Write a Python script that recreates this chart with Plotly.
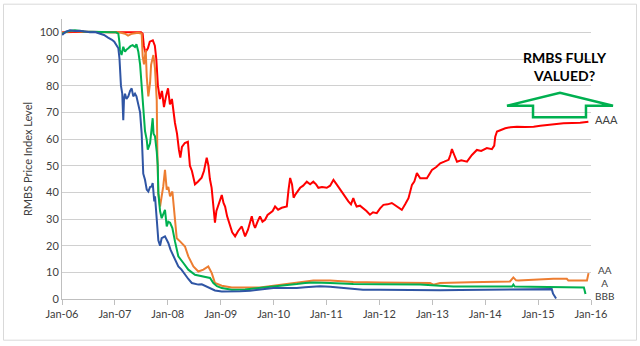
import plotly.graph_objects as go

# ---- series data: RMBS price index levels by rating tranche ----
aaa_dates = [
    "2006-01-02", "2006-06-01", "2007-01-02", "2007-07-01", "2007-07-12", "2007-07-20",
    "2007-07-30", "2007-08-17", "2007-08-30", "2007-09-20", "2007-10-04", "2007-10-14",
    "2007-10-25", "2007-11-08", "2007-11-22", "2007-12-06", "2007-12-20", "2008-01-03",
    "2008-01-16", "2008-01-30", "2008-02-20", "2008-03-05", "2008-03-18", "2008-03-28",
    "2008-04-08", "2008-04-28", "2008-05-19", "2008-06-02", "2008-06-16", "2008-07-07",
    "2008-07-27", "2008-08-22", "2008-09-07", "2008-09-26", "2008-10-08", "2008-10-18",
    "2008-10-30", "2008-11-08", "2008-11-22", "2008-12-02", "2008-12-13", "2008-12-27",
    "2009-01-08", "2009-01-20", "2009-01-31", "2009-02-14", "2009-03-07", "2009-03-21",
    "2009-04-10", "2009-05-01", "2009-05-26", "2009-06-08", "2009-06-18", "2009-07-08",
    "2009-08-03", "2009-08-16", "2009-08-26", "2009-09-12", "2009-09-29", "2009-10-16",
    "2009-11-03", "2009-11-20", "2009-12-07", "2009-12-25", "2010-01-11", "2010-02-01",
    "2010-02-26", "2010-03-14", "2010-04-02", "2010-04-14", "2010-04-25", "2010-05-08",
    "2010-05-19", "2010-05-29", "2010-06-16", "2010-07-03", "2010-07-24", "2010-08-18",
    "2010-09-10", "2010-10-02", "2010-10-21", "2010-11-06", "2010-12-01", "2011-01-03",
    "2011-01-26", "2011-02-18", "2011-03-12", "2011-04-05", "2011-05-02", "2011-06-01",
    "2011-06-19", "2011-07-05", "2011-07-17", "2011-07-28", "2011-08-20", "2011-09-12",
    "2011-10-04", "2011-10-28", "2011-11-18", "2011-12-14", "2012-01-06", "2012-01-29",
    "2012-02-27", "2012-03-27", "2012-04-26", "2012-06-04", "2012-06-27", "2012-07-20",
    "2012-08-13", "2012-08-29", "2012-09-16", "2012-10-09", "2012-11-24", "2012-12-29",
    "2013-01-28", "2013-02-24", "2013-03-24", "2013-04-23", "2013-05-05", "2013-05-16",
    "2013-06-01", "2013-06-20", "2013-07-19", "2013-08-28", "2013-10-01", "2013-11-04",
    "2013-12-04", "2014-01-12", "2014-02-16", "2014-03-04", "2014-03-11", "2014-03-23",
    "2014-04-15", "2014-05-19", "2014-06-23", "2014-08-08", "2014-10-04", "2014-12-01",
    "2015-01-16", "2015-03-03", "2015-04-29", "2015-06-25", "2015-08-24", "2015-10-18",
    "2015-12-14",
]
aaa_values = [
    100.0, 100.2, 100.0, 100.0, 99.5, 95.0,
    92.5, 94.0, 96.5, 97.0, 95.0, 90.0,
    80.0, 75.0, 78.0, 72.0, 76.0, 79.0,
    73.0, 75.0, 66.0, 62.0, 56.0, 53.0,
    57.0, 58.5, 59.0, 50.0, 48.0, 43.0,
    44.0, 45.5, 48.0, 53.0, 50.0, 45.0,
    41.7, 36.0, 28.6, 33.0, 34.7, 37.0,
    39.0, 36.0, 34.7, 31.0, 27.2, 25.0,
    23.5, 25.5, 27.2, 25.0, 23.5, 26.0,
    31.0, 28.0, 26.7, 29.0, 31.0, 29.0,
    29.7, 31.5, 32.3, 33.0, 34.7, 33.5,
    34.2, 34.5, 34.7, 41.0, 45.4, 43.0,
    38.0, 39.0, 40.5, 41.7, 42.5, 44.0,
    43.0, 44.0, 43.0, 41.7, 42.0, 41.7,
    42.5, 44.7, 43.0, 41.0, 39.0, 36.6,
    35.5, 37.8, 36.0, 34.7, 35.0, 34.1,
    33.0, 31.6, 32.5, 32.2, 34.0, 35.3,
    35.5, 36.0, 35.0, 33.4, 35.5, 37.8,
    42.8, 44.0, 47.2, 45.3, 45.3, 48.4,
    49.5, 50.9, 51.5, 52.2, 54.0, 56.2,
    54.0, 51.5, 52.0, 51.5, 54.0, 55.9,
    55.5, 56.6, 56.2, 57.5, 60.9, 62.8,
    63.3, 64.0, 64.4, 64.6, 64.5, 64.6,
    65.0, 65.3, 65.6, 65.9, 66.0, 66.1,
    66.5,
]

aa_dates = [
    "2006-01-02", "2006-03-01", "2006-06-01", "2006-09-01", "2006-12-01", "2007-02-01",
    "2007-03-12", "2007-04-02", "2007-04-29", "2007-06-10", "2007-07-05", "2007-07-12",
    "2007-07-21", "2007-08-02", "2007-08-09", "2007-08-20", "2007-09-01", "2007-09-08",
    "2007-09-17", "2007-09-24", "2007-10-05", "2007-10-17", "2007-10-21", "2007-10-28",
    "2007-11-09", "2007-11-19", "2007-12-01", "2007-12-13", "2007-12-25", "2008-01-05",
    "2008-01-17", "2008-02-02", "2008-02-15", "2008-03-03", "2008-03-26", "2008-04-29",
    "2008-05-22", "2008-06-26", "2008-07-30", "2008-09-03", "2008-10-07", "2008-10-31",
    "2008-11-22", "2009-01-08", "2009-03-18", "2009-06-18", "2009-09-29", "2009-12-30",
    "2010-03-21", "2010-06-10", "2010-10-02", "2011-01-26", "2011-07-05", "2012-01-06",
    "2012-10-08", "2012-12-16", "2013-01-08", "2013-02-23", "2013-09-18", "2014-04-13",
    "2014-06-21", "2014-07-14", "2014-08-02", "2014-08-18", "2014-12-11", "2015-04-16",
    "2015-07-18", "2015-07-29", "2015-12-04", "2015-12-15",
]
aa_values = [
    99.8, 100.5, 100.2, 100.0, 100.0, 100.0,
    99.5, 98.8, 99.5, 99.8, 99.5, 91.0,
    88.0, 93.4, 83.4, 76.0, 81.0, 87.8,
    89.6, 91.5, 86.5, 74.6, 56.0, 39.7,
    34.7, 38.0, 42.2, 48.4, 41.0, 42.0,
    38.5, 40.3, 33.4, 22.8, 21.6, 19.7,
    16.0, 12.2, 10.3, 11.0, 12.2, 9.7,
    6.0, 5.0, 4.3, 4.2, 4.3, 5.0,
    5.6, 6.2, 6.9, 6.9, 6.4, 6.2,
    6.2, 6.0, 5.4, 6.0, 6.3, 6.5,
    6.6, 8.1, 7.0, 6.9, 7.3, 7.6,
    7.6, 6.9, 6.9, 9.7,
]

a_dates = [
    "2006-01-02", "2006-02-15", "2006-04-01", "2006-06-01", "2006-08-01", "2006-10-01",
    "2006-12-01", "2007-01-09", "2007-01-25", "2007-02-02", "2007-02-05", "2007-02-16",
    "2007-02-28", "2007-03-12", "2007-03-22", "2007-04-04", "2007-04-19", "2007-05-04",
    "2007-05-20", "2007-05-30", "2007-06-12", "2007-06-24", "2007-07-05", "2007-07-16",
    "2007-07-28", "2007-08-09", "2007-08-16", "2007-09-01", "2007-09-12", "2007-09-19",
    "2007-09-25", "2007-10-05", "2007-10-17", "2007-10-24", "2007-10-28", "2007-11-09",
    "2007-11-20", "2007-12-01", "2007-12-13", "2007-12-25", "2008-01-05", "2008-01-17",
    "2008-02-02", "2008-02-20", "2008-03-14", "2008-04-18", "2008-05-22", "2008-07-07",
    "2008-08-23", "2008-09-21", "2008-10-19", "2008-11-11", "2008-12-06", "2009-01-08",
    "2009-03-18", "2009-06-18", "2009-09-29", "2009-12-30", "2010-03-21", "2010-06-10",
    "2010-08-06", "2010-10-02", "2011-01-26", "2011-07-05", "2012-01-06", "2012-10-08",
    "2013-02-23", "2013-05-26", "2013-11-26", "2014-07-05", "2014-07-14", "2014-07-23",
    "2014-11-07", "2015-04-16", "2015-08-10", "2015-11-13", "2015-11-24",
]
a_values = [
    99.5, 100.5, 100.8, 100.3, 100.2, 100.0,
    100.0, 100.0, 99.5, 96.0, 93.4, 91.5,
    94.6, 92.7, 93.5, 94.0, 94.8, 95.2,
    94.5, 95.5, 92.7, 88.0, 80.0, 69.0,
    63.0, 59.7, 56.0, 58.4, 64.0, 67.8,
    62.0, 61.0, 55.3, 50.0, 39.8, 33.0,
    30.3, 32.0, 33.4, 27.2, 29.0, 28.6,
    26.6, 21.6, 16.0, 13.5, 11.0, 9.1,
    8.5, 8.2, 7.9, 6.0, 4.8, 4.1,
    3.5, 3.6, 4.1, 4.7, 5.1, 5.6,
    6.0, 6.2, 6.0, 5.6, 5.5, 5.4,
    5.0, 4.7, 4.7, 4.7, 5.4, 4.7,
    4.6, 4.5, 4.4, 4.3, 1.9,
]

bbb_dates = [
    "2006-01-02", "2006-01-28", "2006-02-25", "2006-04-01", "2006-05-05", "2006-06-08",
    "2006-07-13", "2006-08-17", "2006-09-20", "2006-10-18", "2006-11-15", "2006-11-28",
    "2006-12-12", "2006-12-28", "2007-01-02", "2007-01-12", "2007-01-25", "2007-02-02",
    "2007-02-05", "2007-02-12", "2007-02-21", "2007-02-28", "2007-03-05", "2007-03-12",
    "2007-03-22", "2007-04-04", "2007-04-16", "2007-04-27", "2007-05-08", "2007-05-20",
    "2007-05-30", "2007-06-12", "2007-06-24", "2007-07-05", "2007-07-16", "2007-07-28",
    "2007-08-09", "2007-08-20", "2007-09-01", "2007-09-12", "2007-09-19", "2007-09-30",
    "2007-10-05", "2007-10-17", "2007-10-28", "2007-11-09", "2007-11-20", "2007-12-13",
    "2008-01-05", "2008-01-20", "2008-02-09", "2008-02-27", "2008-03-14", "2008-04-05",
    "2008-04-29", "2008-05-22", "2008-06-15", "2008-07-07", "2008-07-30", "2008-08-23",
    "2008-09-14", "2008-10-19", "2008-11-22", "2009-01-08", "2009-02-22", "2009-05-14",
    "2009-07-22", "2009-09-29", "2009-11-10", "2009-12-30", "2010-03-21", "2010-06-10",
    "2010-08-06", "2010-09-23", "2010-11-17", "2011-01-26", "2011-04-05", "2011-07-05",
    "2011-09-10", "2012-01-06", "2012-05-23", "2012-10-08", "2013-02-23", "2013-07-11",
    "2013-11-26", "2014-04-13", "2014-08-29", "2015-01-14", "2015-04-05", "2015-04-14",
    "2015-04-25", "2015-05-05",
]
bbb_values = [
    99.0, 100.3, 100.8, 100.5, 100.6, 100.2,
    100.0, 100.1, 99.5, 99.0, 98.0, 97.7,
    97.2, 96.5, 96.0, 95.0, 94.0, 90.0,
    87.0, 80.0, 77.0, 67.0, 75.0, 77.0,
    75.0, 76.0, 78.0, 79.0, 76.0, 77.0,
    76.0, 73.4, 70.0, 62.0, 47.0, 44.7,
    41.0, 40.3, 42.0, 42.2, 43.5, 36.6,
    38.5, 30.0, 22.0, 20.0, 22.8, 23.5,
    21.0, 18.5, 16.0, 14.0, 12.2, 11.0,
    9.1, 7.5, 6.0, 5.8, 5.4, 5.5,
    5.0, 4.1, 3.2, 2.8, 2.8, 2.9,
    3.1, 3.5, 3.8, 4.1, 4.1, 4.1,
    4.4, 4.7, 4.8, 4.6, 4.3, 3.9,
    3.5, 3.5, 3.4, 3.5, 3.3, 3.4,
    3.5, 3.6, 3.5, 3.6, 3.7, 2.0,
    0.8, 0.2,
]

series_names = ["AAA", "AA", "A", "BBB"]
series_colors = ["#FF0000", "#ED7D31", "#00B050", "#2F55A4"]
aaa_label_level = 67.5
low_label_level = 6.1   # centre of the stacked AA / A / BBB labels

y_ticks = [0, 10, 20, 30, 40, 50, 60, 70, 80, 90, 100]

# ---- canvas geometry (pixels) ----
W, H = 640, 346
PLOT_L, PLOT_R = 62, 591
PLOT_T, PLOT_B = 19.3, 299.3


def px(x):
    return (x - PLOT_L) / (PLOT_R - PLOT_L)


def py(y):
    return (PLOT_B - y) / (PLOT_B - PLOT_T)


fig = go.Figure()
all_series = [
    (aaa_dates, aaa_values),
    (aa_dates, aa_values),
    (a_dates, a_values),
    (bbb_dates, bbb_values),
]
for (d, v), name, color in zip(all_series, series_names, series_colors):
    fig.add_trace(go.Scatter(
        x=d, y=v, mode="lines", name=name,
        line=dict(color=color, width=2),
        showlegend=False, hoverinfo="x+y+name",
    ))

# series labels at the right end
fig.add_annotation(
    x=1.0, xref="paper", y=aaa_label_level, yref="y", text=series_names[0],
    showarrow=False, xanchor="left", yanchor="middle", xshift=2,
    font=dict(size=11, color="#404040"),
)
fig.add_annotation(
    x=px(604), xref="paper", y=low_label_level, yref="y",
    text="<br>".join(series_names[1:]), showarrow=False,
    xanchor="center", yanchor="middle", align="center",
    font=dict(size=10, color="#404040"),
)

# callout text and outlined up-arrow
fig.add_annotation(
    x=px(565), y=py(66.5), xref="paper", yref="paper",
    xanchor="center", yanchor="middle",
    text="<b>RMBS FULLY<br>VALUED?</b>", showarrow=False,
    font=dict(size=14, color="#000000"), align="center",
)
arrow_pts = [(507, 106), (560, 93), (613, 106), (586, 106), (586, 117.5),
             (533, 117.5), (533, 106)]
path = "M " + " L ".join(f"{px(a):.4f},{py(b):.4f}" for a, b in arrow_pts) + " Z"
fig.add_shape(type="path", path=path, xref="paper", yref="paper",
              line=dict(color="#00B050", width=2.5), fillcolor="rgba(0,0,0,0)")

# outer chart border
fig.add_shape(type="rect", xref="paper", yref="paper",
              x0=px(3.5), x1=px(636.5), y0=py(340.5), y1=py(4.5),
              line=dict(color="#D9D9D9", width=1), fillcolor="rgba(0,0,0,0)")

fig.update_layout(
    width=W, height=H,
    margin=dict(l=PLOT_L, r=W - PLOT_R, t=PLOT_T, b=H - PLOT_B),
    paper_bgcolor="white", plot_bgcolor="white",
    font=dict(family="Lato, Carlito, Calibri, sans-serif", size=11, color="#404040"),
)
fig.update_xaxes(
    type="date", range=["2006-01-01", "2016-01-01"],
    tick0="2006-01-01", dtick="M12", tickformat="%b-%y",
    showgrid=False, showline=True, linecolor="#BFBFBF", linewidth=1,
    ticks="outside", ticklen=5, tickcolor="#BFBFBF",
    tickfont=dict(size=11, color="#404040"), zeroline=False,
)
fig.update_yaxes(
    range=[0, 105], tickvals=y_ticks,
    showgrid=True, gridcolor="#D0D0D0", gridwidth=1,
    showline=True, linecolor="#BFBFBF", linewidth=1,
    ticks="", zeroline=False,
    tickfont=dict(size=11, color="#404040"),
    title=dict(text="RMBS Price Index Level", font=dict(size=11, color="#404040"), standoff=4),
)

fig.write_html("out.html")
